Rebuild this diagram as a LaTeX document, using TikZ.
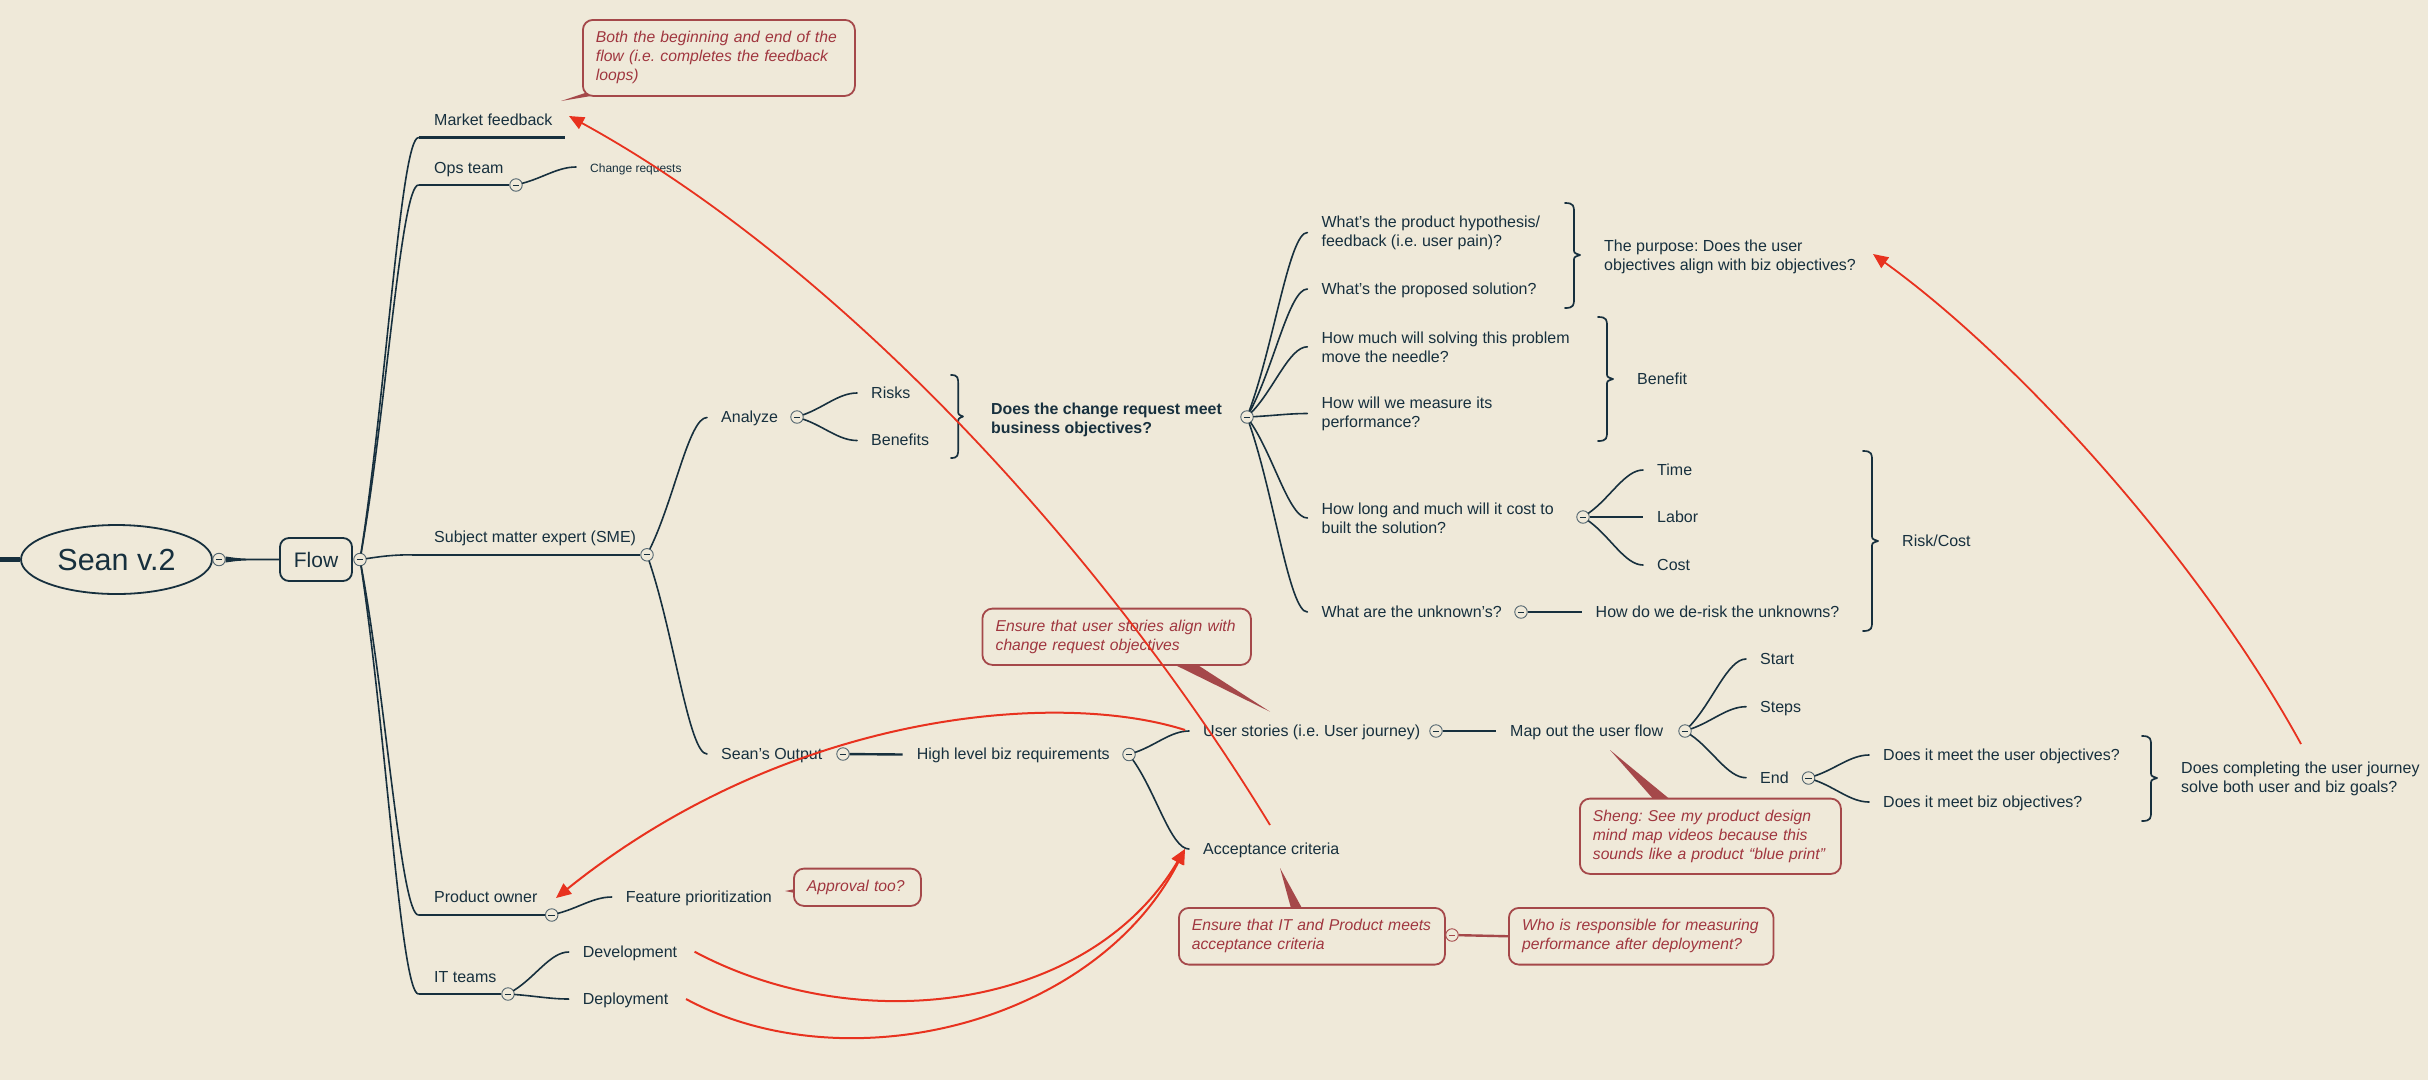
\documentclass[tikz,border=0pt]{standalone}
\usepackage{fontspec}
\setmainfont{Liberation Sans}
\usetikzlibrary{calc,arrows.meta,shapes.geometric}
\definecolor{bgc}{HTML}{EFE9D9}
\definecolor{ink}{HTML}{17303E}
\definecolor{notec}{HTML}{A5484A}
\definecolor{notetxt}{HTML}{A0363F}
\definecolor{redc}{HTML}{E8321F}
\frenchspacing
\tikzset{
 base/.style={font=\fontsize{16}{19}\selectfont\frenchspacing,text=ink,inner ysep=0pt,inner xsep=14pt,anchor=west,align=left},
 lbl/.style={base,text height=13.4pt,text depth=2.6pt},
 lbltwo/.style={base},
 conn/.style={draw=ink,line width=1.6pt,line cap=round},
 stem/.style={draw=ink,line width=2.4pt},
 collapse/.style={circle,draw=ink!75,line width=.9pt,fill=bgc,minimum size=12.5pt,inner sep=0pt,
   path picture={\draw[ink,line width=.8pt] ([xshift=3pt]path picture bounding box.west) -- ([xshift=-3pt]path picture bounding box.east);}},
 notebox/.style={draw=notec,line width=1.8pt,rounded corners=10pt,fill=bgc,anchor=north west,inner xsep=13pt,inner ysep=0pt,
   font=\fontsize{15.7}{19}\selectfont\itshape\frenchspacing,text=notetxt,align=left},
 tailf/.style={fill=notec},
 bracec/.style={draw=ink,line width=1.7pt,line cap=round,line join=round},
 relarrow/.style={draw=redc,line width=1.8pt,-{Triangle[length=15pt,width=13pt]}},
}
\newcommand{\bran}[2]{\draw[conn] let \p1=(#1.center), \p2=(#2) in (#1) .. controls ({\x1+0.45*(\x2-\x1)},{\y1+0.4*(\y2-\y1)}) and ({\x1+0.7*(\x2-\x1)},\y2) .. (#2);}
\newcommand{\cbrace}[5]{\draw[bracec] (#1,#3) .. controls ({#1+.6*(#2-#1)},#3) and ({#1+.6*(#2-#1)},#3+3) .. ({#1+.6*(#2-#1)},#3+10) -- ({#1+.6*(#2-#1)},#4-6) .. controls ({#1+.6*(#2-#1)},#4-2) .. (#2,#4) .. controls ({#1+.6*(#2-#1)},#4+2) .. ({#1+.6*(#2-#1)},#4+6) -- ({#1+.6*(#2-#1)},#5-10) .. controls ({#1+.6*(#2-#1)},#5-3) and ({#1+.6*(#2-#1)},#5) .. (#1,#5);}
\begin{document}
\begin{tikzpicture}[x=1pt,y=-1pt]
\fill[bgc] (0,0) rectangle (2428,1080);
\useasboundingbox (0,0) rectangle (2428,1080);

% ---- root
\node[ellipse,draw=ink,line width=1.8pt,minimum width=191pt,minimum height=69pt,inner sep=0pt,font=\fontsize{30.5}{36}\selectfont,text=ink] (sean) at (116.5,559.5) {Sean v.2};
\node[draw=ink,line width=1.8pt,rounded corners=9pt,minimum width=72pt,minimum height=43pt,inner sep=0pt,font=\fontsize{21}{25}\selectfont,text=ink] (flow) at (316,559.5) {Flow};
\coordinate (offleft) at (0,559.5);
\node[collapse] (cS) at (219,559.5) {};
\node[collapse] (cF) at (360,559.5) {};
\draw[ink,line width=5pt] (offleft) -- (sean.west);
\fill[ink] ($(cS.east)+(0,-3)$) .. controls +(15,2.2) .. ($(flow.west)+(0,-.8)$) -- ($(flow.west)+(0,.8)$) .. controls ($(cS.east)+(15,.8)$) .. ($(cS.east)+(0,3)$) -- cycle;

% ---- first level
\node[lbl] (mf) at (420,120) {Market feedback};
\coordinate (mfa) at (418.5,137.6);
\coordinate (mfb) at (565,137.6);
\node[lbl] (ops) at (420,168) {Ops team};
\coordinate (opsa) at (418.5,185);
\node[collapse] (cOps) at (516,185) {};
\node[lbl,font=\fontsize{12}{14}\selectfont] (chg) at (576,167) {Change requests};
\node[lbl] (sme) at (420,536.6) {Subject matter expert (SME)};
\coordinate (smea) at (412,554.8);
\node[collapse] (cSme) at (647,554.8) {};
\node[lbl] (po) at (420,897) {Product owner};
\coordinate (poa) at (418.5,915);
\node[collapse] (cPo) at (551.7,915) {};
\node[lbl] (fp) at (611.7,897) {Feature prioritization};
\node[lbl] (it) at (420,976.7) {IT teams};
\coordinate (ita) at (418.5,994);
\node[collapse] (cIt) at (508,994) {};
\node[lbl] (dev) at (568.7,952) {Development};
\node[lbl] (dep) at (568.7,999) {Deployment};

\bran{cF}{mfa}
\bran{cF}{opsa}
\bran{cF}{poa}
\bran{cF}{ita}
\draw[conn] (cF) .. controls (378,557) and (390,554.8) .. (smea);
\draw[stem] (mfa) -- (mfb);
\draw[stem] (opsa) -- (cOps);
\draw[stem] (smea) -- (cSme);
\draw[stem] (poa) -- (cPo);
\draw[stem] (ita) -- (cIt);
\bran{cOps}{chg.west}
\bran{cPo}{fp.west}
\bran{cIt}{dev.west}
\bran{cIt}{dep.west}

% ---- SME subtree
\node[lbl] (an) at (707,417.5) {Analyze};
\node[collapse] (cAn) at (797,417) {};
\node[lbl] (risks) at (857,393) {Risks};
\node[lbl] (bens) at (857,440.5) {Benefits};
\node[lbl] (out) at (707,754) {Sean's Output};
\node[collapse] (cOut) at (843,754) {};
\node[lbl] (hl) at (902.6,754.5) {High level biz requirements};
\node[collapse] (cHl) at (1129,754.5) {};
\node[lbl] (us) at (1189,731) {User stories (i.e. User journey)};
\node[collapse] (cUs) at (1436,731) {};
\node[lbl] (ac) at (1189,849) {Acceptance criteria};
\node[lbl] (map) at (1496,731) {Map out the user flow};
\node[collapse] (cMap) at (1685,731) {};
\node[lbl] (st) at (1746,659) {Start};
\node[lbl] (sp) at (1746,706.7) {Steps};
\node[lbl] (en) at (1746,777.7) {End};
\node[collapse] (cEn) at (1808.5,778) {};
\node[lbl] (mu) at (1869,755) {Does it meet the user objectives?};
\node[lbl] (mb) at (1869,802) {Does it meet biz objectives?};
\node[lbltwo] (sol) at (2167,779) {Does completing the user journey\\solve both user and biz goals?};
\bran{cSme}{an.west}
\bran{cSme}{out.west}
\bran{cAn}{risks.west}
\bran{cAn}{bens.west}
\draw[stem] (cOut) -- (hl.west);
\bran{cHl}{us.west}
\bran{cHl}{ac.west}
\draw[stem] (cUs) -- (map.west);
\bran{cMap}{st.west}
\bran{cMap}{sp.west}
\bran{cMap}{en.west}
\bran{cEn}{mu.west}
\bran{cEn}{mb.west}
\cbrace{2142}{2157}{736}{778}{821}

% ---- decision subtree
\cbrace{951}{963}{375}{416.5}{458}
\node[lbltwo,font=\fontsize{15.9}{19}\selectfont\bfseries\frenchspacing] (dc) at (977,419.5) {Does the change request meet\\business objectives?};
\node[collapse] (cDc) at (1247,417) {};
\node[lbltwo] (q1) at (1307.4,232.5) {What's the product hypothesis/\\feedback (i.e. user pain)?};
\node[lbl] (q2) at (1307.4,289) {What's the proposed solution?};
\node[lbltwo] (q3) at (1307.4,346.8) {How much will solving this problem\\move the needle?};
\node[lbltwo] (q4) at (1307.4,413.5) {How will we measure its\\performance?};
\node[lbltwo] (q5) at (1307.4,518) {How long and much will it cost to\\built the solution?};
\node[lbl] (q6) at (1307.4,612) {What are the unknown's?};
\node[collapse] (cQ6) at (1521,612) {};
\node[lbl] (q7) at (1581.5,612) {How do we de-risk the unknowns?};
\node[collapse] (cQ5) at (1583,517) {};
\node[lbl] (t1) at (1643,470) {Time};
\node[lbl] (t2) at (1643,517) {Labor};
\node[lbl] (t3) at (1643,565) {Cost};
\node[lbltwo] (pur) at (1590,256.5) {The purpose: Does the user\\objectives align with biz objectives?};
\node[lbl] (ben) at (1623,379) {Benefit};
\node[lbl] (rc) at (1888,541) {Risk/Cost};
\bran{cDc}{q1.west}
\bran{cDc}{q2.west}
\bran{cDc}{q3.west}
\bran{cDc}{q4.west}
\bran{cDc}{q5.west}
\bran{cDc}{q6.west}
\draw[stem] (cQ6) -- (q7.west);
\bran{cQ5}{t1.west}
\draw[stem] (cQ5) -- (t2.west);
\bran{cQ5}{t3.west}
\cbrace{1565}{1580}{203}{255}{308}
\cbrace{1598}{1613}{317}{379}{441}
\cbrace{1863}{1878}{451}{541}{631}

% ---- notes
\fill[tailf] (588,92) -- (597,95) -- (561,101) -- cycle;
\node[notebox,minimum width=272pt,minimum height=76pt,text width=246pt] (n1) at (582,19) {\mbox{Both the beginning and end of the}\\\mbox{flow (i.e. completes the feedback}\\\mbox{loops)}};
\fill[tailf] (1165,660) -- (1190,660) -- (1270,711.7) -- cycle;
\node[notebox,minimum width=268.5pt,minimum height=56.3pt,text width=242pt] (n2) at (981.5,607.7) {\mbox{Ensure that user stories align with}\\\mbox{change request objectives}};
\fill[tailf] (1610,750) -- (1655,801) -- (1672,801) -- cycle;
\node[notebox,minimum width=261pt,minimum height=75.3pt,text width=235pt] (n3) at (1579,797.7) {\mbox{Sheng: See my product design}\\\mbox{mind map videos because this}\\\mbox{sounds like a product “blue print”}};
\fill[tailf] (1280,868) -- (1291.5,910) -- (1303,910) -- cycle;
\node[notebox,minimum width=266pt,minimum height=56.7pt,text width=240pt] (n4) at (1178,907) {\mbox{Ensure that IT and Product meets}\\\mbox{acceptance criteria}};
\node[collapse,draw=notec,path picture={\draw[notec,line width=.8pt] ([xshift=3pt]path picture bounding box.west) -- ([xshift=-3pt]path picture bounding box.east);}] (cN4) at (1452,935) {};
\node[notebox,minimum width=264.6pt,minimum height=56.7pt,text width=238pt] (n5) at (1508,907) {\mbox{Who is responsible for measuring}\\\mbox{performance after deployment?}};
\draw[draw=notec,line width=2.4pt] (cN4) -- (n5.west);
\fill[tailf] (785,891) -- (795,889) -- (795,893) -- cycle;
\node[notebox,minimum width=127pt,minimum height=37.3pt,text width=101pt] (n6) at (793,867.7) {\mbox{Approval too?}};

% ---- relationship arrows
\coordinate (rAs) at (1270,825);
\coordinate (rAe) at (569,116);
\coordinate (rBs) at (694.6,951.7);
\coordinate (rCs) at (686,999);
\coordinate (rBe) at (1185,849);
\coordinate (rDs) at (1185,730);
\coordinate (rDe) at (556,898);
\coordinate (rEs) at (2301,744);
\coordinate (rEe) at (1873,254);
\draw[relarrow] (rAs) .. controls (1098,543) and (834,261) .. (rAe);
\draw[relarrow,line width=2pt] (rBs) .. controls (860,1040) and (1090,1010) .. (rBe);
\draw[relarrow,line width=2pt] (rCs) .. controls (845,1085) and (1095,1025) .. (rBe);
\draw[relarrow,line width=2pt] (rDs) .. controls (1060,690) and (790,710) .. (rDe);
\draw[relarrow] (rEs) .. controls (2200,560) and (2020,360) .. (rEe);
\end{tikzpicture}
\end{document}
